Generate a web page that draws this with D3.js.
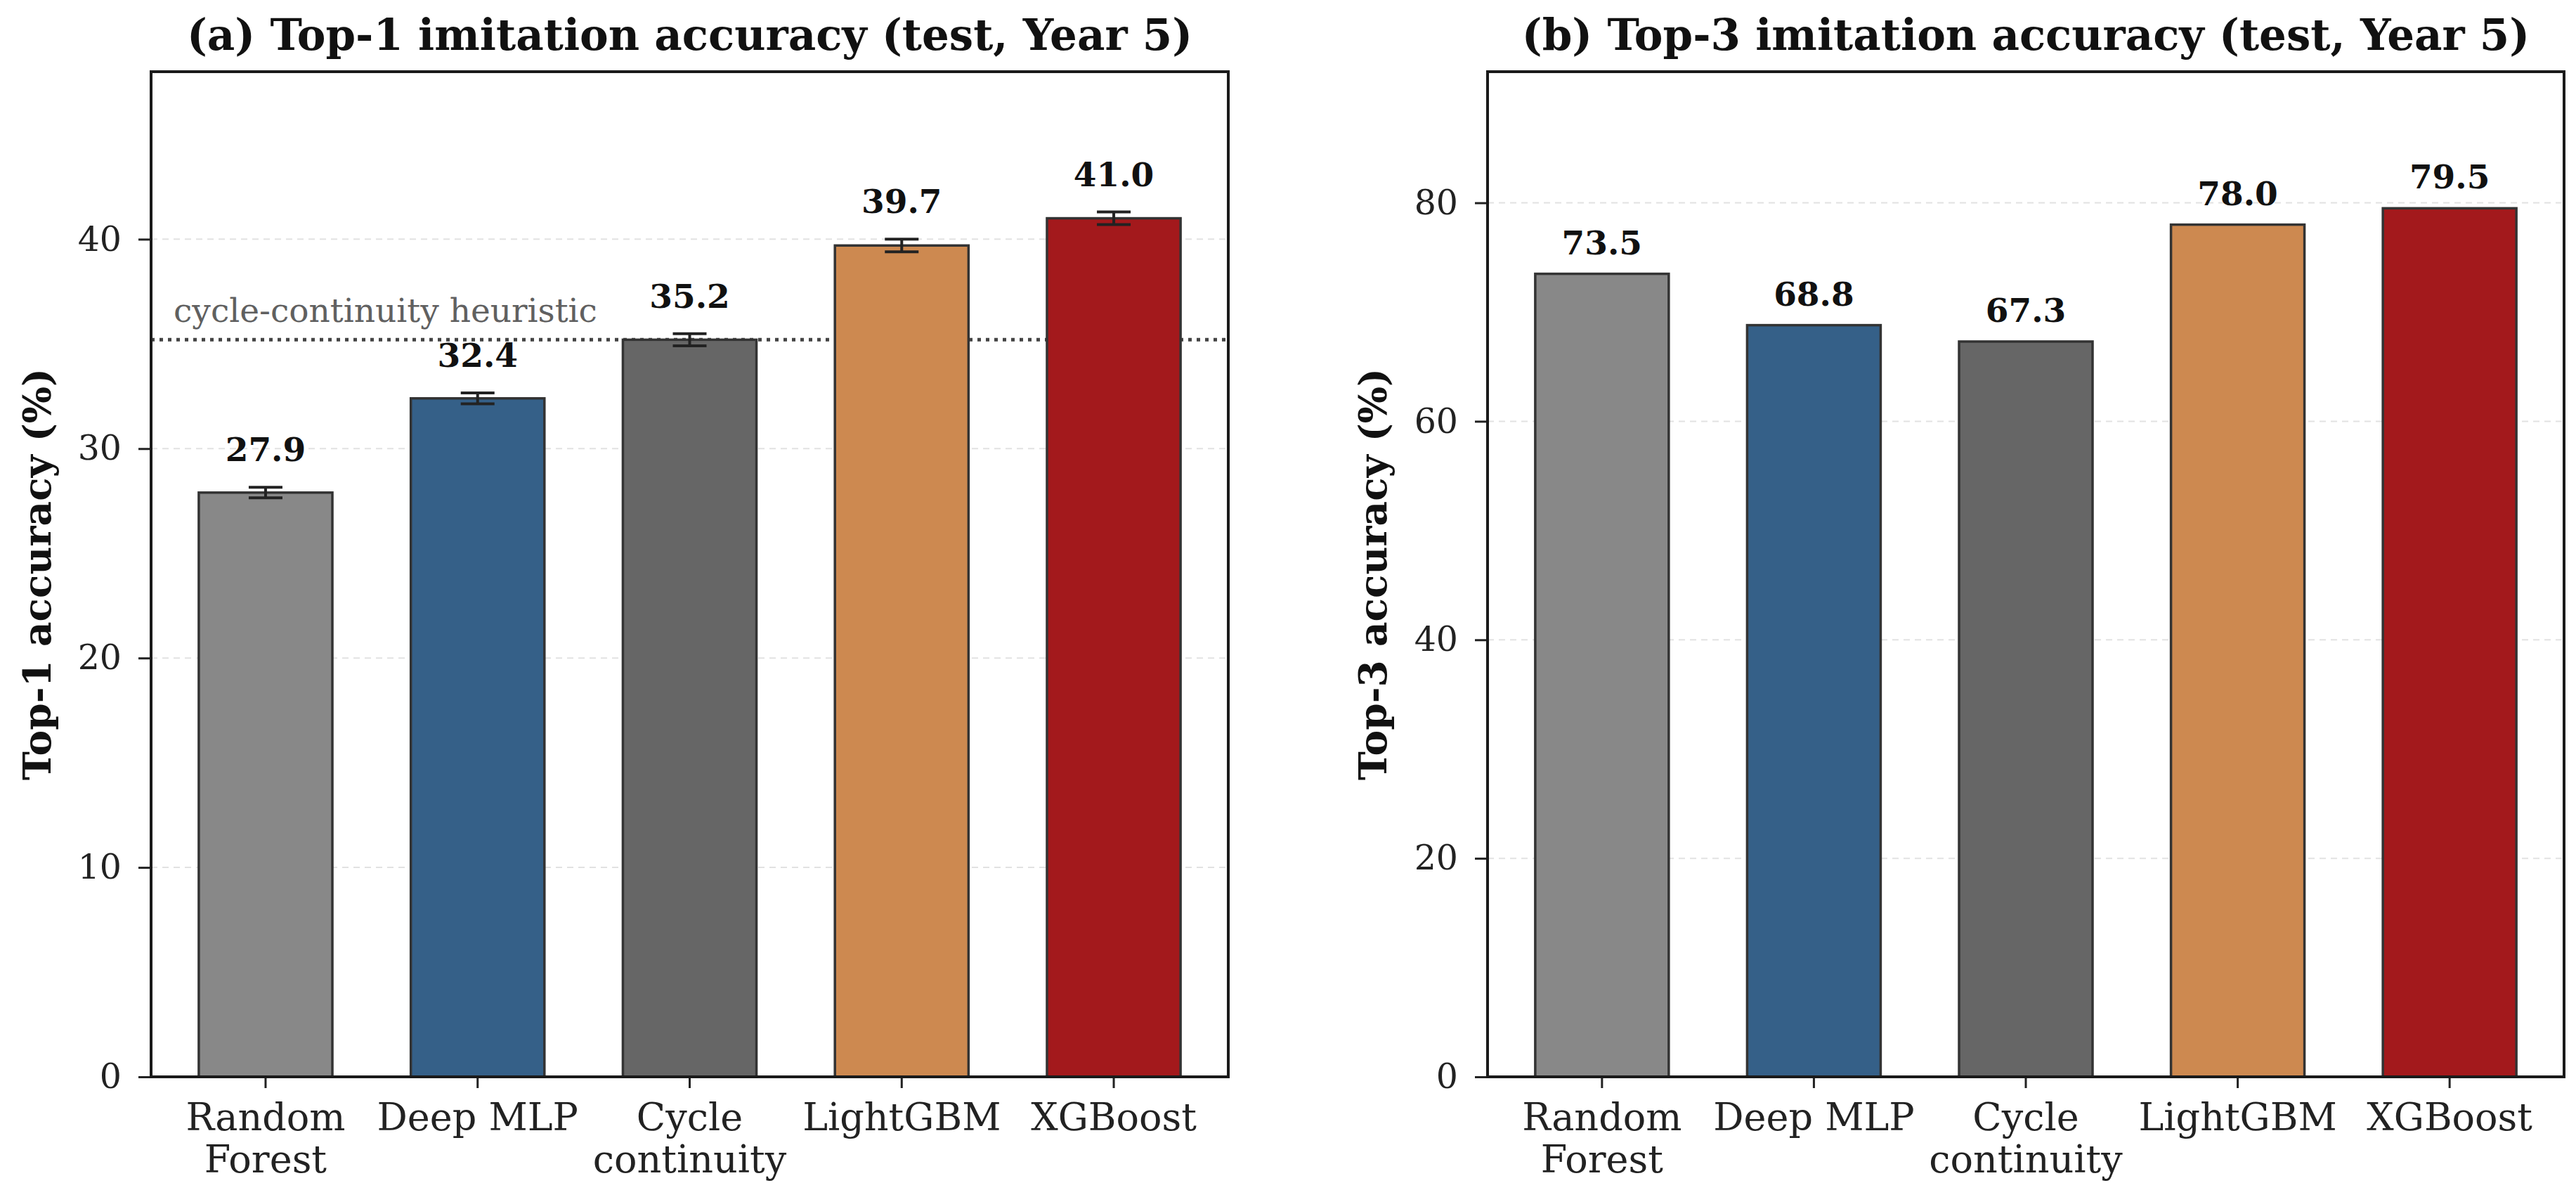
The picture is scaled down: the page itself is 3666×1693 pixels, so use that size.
<!DOCTYPE html>
<html lang="en">
<head>
    <meta charset="UTF-8">
    <title>Imitation accuracy (test, Year 5)</title>
    <script src="https://d3js.org/d3.v7.min.js"></script>
    <style>
        body { margin: 0; background: #fff; }
        svg { display: block; font-family: "DejaVu Serif", serif; }
        .grid line { stroke: #e2e2e2; stroke-width: 2; stroke-dasharray: 9, 7; }
        .bar { stroke: #333; stroke-width: 3.5px; }
        .errbar { stroke: #222; stroke-width: 4px; }
        .value-label { font-size: 47px; font-weight: bold; fill: #111; }
        .title { font-size: 61px; font-weight: bold; fill: #111; }
        .ylabel { font-size: 55px; font-weight: bold; fill: #111; }
        .tick text { fill: #222; font-family: "DejaVu Serif", serif; }
        .tick line { stroke: #222; stroke-width: 3px; }
    </style>
</head>
<body>
<svg width="3666" height="1693"></svg>
<script>
    // データ
    const models = ["Random Forest", "Deep MLP", "Cycle continuity", "LightGBM", "XGBoost"];
    const modelLabels = ["Random\nForest", "Deep MLP", "Cycle\ncontinuity", "LightGBM", "XGBoost"];
    const barColors = ["#888888", "#356088", "#666666", "#cd8950", "#a3191c"];
    const top1 = [27.9, 32.4, 35.2, 39.7, 41.0];
    const top1Err = [0.25, 0.26, 0.29, 0.30, 0.30];
    const top3 = [73.5, 68.8, 67.3, 78.0, 79.5];
    const top1Ticks = [0, 10, 20, 30, 40];
    const top3Ticks = [0, 20, 40, 60, 80];
    const heuristicTop1 = 35.2;
    const heuristicLabel = "cycle-continuity heuristic";

    const svg = d3.select("svg");
    const plotTop = 102, plotBottom = 1532;

    function drawPanel(opt) {
        const g = svg.append("g");

        const x = d3.scaleBand()
            .domain(models)
            .range([opt.left, opt.right])
            .paddingInner(0.37)
            .paddingOuter(0.225);
        const y = d3.scaleLinear().domain([0, opt.ymax]).range([plotBottom, plotTop]);

        // グリッド
        g.append("g").attr("class", "grid")
            .selectAll("line")
            .data(opt.ticks.filter(t => t > 0))
            .enter().append("line")
            .attr("x1", opt.left).attr("x2", opt.right)
            .attr("y1", d => y(d)).attr("y2", d => y(d));

        // ヒューリスティック線（棒の後ろ）
        if (opt.heuristic != null) {
            g.append("line")
                .attr("x1", opt.left).attr("x2", opt.right)
                .attr("y1", y(opt.heuristic)).attr("y2", y(opt.heuristic))
                .style("stroke", "#444")
                .style("stroke-width", 5)
                .style("stroke-dasharray", "5, 7");
            g.append("text")
                .attr("x", opt.left + 32)
                .attr("y", y(opt.heuristic) - 25)
                .style("font-size", "47px")
                .style("fill", "#606060")
                .text(heuristicLabel);
        }

        // 棒
        g.selectAll("rect.bar")
            .data(opt.values)
            .enter().append("rect")
            .attr("class", "bar")
            .attr("x", (d, i) => x(models[i]))
            .attr("width", x.bandwidth())
            .attr("y", d => y(d))
            .attr("height", d => y(0) - y(d))
            .attr("fill", (d, i) => barColors[i]);

        // エラーバー
        if (opt.errors) {
            const capW = 24;
            opt.values.forEach((v, i) => {
                const cx = x(models[i]) + x.bandwidth() / 2;
                const e = opt.errors[i];
                g.append("line").attr("class", "errbar")
                    .attr("x1", cx).attr("x2", cx)
                    .attr("y1", y(v - e)).attr("y2", y(v + e));
                [v - e, v + e].forEach(t => {
                    g.append("line").attr("class", "errbar")
                        .attr("x1", cx - capW).attr("x2", cx + capW)
                        .attr("y1", y(t)).attr("y2", y(t));
                });
            });
        }

        // 値ラベル
        g.selectAll("text.value-label")
            .data(opt.values)
            .enter().append("text")
            .attr("class", "value-label")
            .attr("text-anchor", "middle")
            .attr("x", (d, i) => x(models[i]) + x.bandwidth() / 2)
            .attr("y", (d, i) => y(d + (opt.errors ? opt.errors[i] : 0)) - opt.labelGap)
            .text(d => d.toFixed(1));

        // 軸
        const yAxis = g.append("g")
            .attr("transform", `translate(${opt.left},0)`)
            .call(d3.axisLeft(y).tickValues(opt.ticks).tickSize(18).tickPadding(24));
        yAxis.attr("font-family", null).attr("font-size", null);
        yAxis.selectAll(".tick text").style("font-size", "49px");
        yAxis.select(".domain").remove();

        const xAxis = g.append("g")
            .attr("transform", `translate(0,${plotBottom})`)
            .call(d3.axisBottom(x).tickSize(16).tickPadding(22));
        xAxis.attr("font-family", null).attr("font-size", null);
        xAxis.select(".domain").remove();
        xAxis.selectAll(".tick text")
            .style("font-size", "54px")
            .text(null)
            .each(function (d, i) {
                const lines = modelLabels[i].split("\n");
                const t = d3.select(this);
                lines.forEach((ln, k) => {
                    t.append("tspan")
                        .attr("x", 0)
                        .attr("dy", k === 0 ? "0.71em" : "60px")
                        .text(ln);
                });
            })
            .attr("dy", null);

        // 枠
        g.append("rect")
            .attr("x", opt.left).attr("y", plotTop)
            .attr("width", opt.right - opt.left)
            .attr("height", plotBottom - plotTop)
            .attr("fill", "none")
            .style("stroke", "#1a1a1a")
            .style("stroke-width", 4);

        // タイトル
        g.append("text")
            .attr("class", "title")
            .attr("text-anchor", "middle")
            .attr("x", (opt.left + opt.right) / 2)
            .attr("y", 71)
            .text(opt.title);

        // y軸ラベル
        g.append("text")
            .attr("class", "ylabel")
            .attr("text-anchor", "middle")
            .attr("transform", `translate(${opt.ylabelX},${(plotTop + plotBottom) / 2}) rotate(-90)`)
            .attr("dy", "0.36em")
            .text(opt.ylabel);
    }

    drawPanel({
        left: 215, right: 1748, ymax: 48,
        values: top1, errors: top1Err, ticks: top1Ticks,
        heuristic: heuristicTop1, labelGap: 37,
        title: "(a) Top-1 imitation accuracy (test, Year 5)",
        ylabel: "Top-1 accuracy (%)", ylabelX: 52
    });

    drawPanel({
        left: 2117, right: 3649, ymax: 92,
        values: top3, errors: null, ticks: top3Ticks,
        heuristic: null, labelGap: 28,
        title: "(b) Top-3 imitation accuracy (test, Year 5)",
        ylabel: "Top-3 accuracy (%)", ylabelX: 1953
    });
</script>
</body>
</html>
